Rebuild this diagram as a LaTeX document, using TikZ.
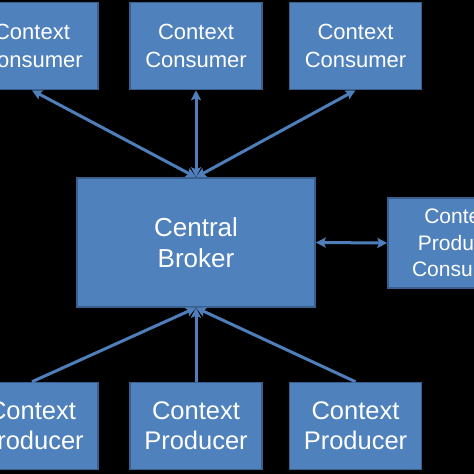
\documentclass[tikz,border=0pt]{standalone}
\usepackage{fontspec}
\setmainfont{Liberation Sans}
\usetikzlibrary{arrows.meta}

\definecolor{boxblue}{HTML}{4F81BD}
\definecolor{boxedge}{HTML}{3A5F8E}
\definecolor{linkblue}{HTML}{4F7FBA}

\begin{document}
\begin{tikzpicture}[x=1pt, y=-1pt,
    box/.style = {draw=boxedge, line width=1.5pt, fill=boxblue, text=white,
                  minimum width=132pt, minimum height=87pt, align=center,
                  font=\fontsize{22}{28.5}\selectfont, inner sep=0pt},
    link/.style = {draw=linkblue, line width=3pt, arrows={-Stealth[length=10pt, width=10pt, inset=2pt]}},
    both/.style = {link, arrows={Stealth[length=10pt, width=10pt, inset=2pt]-Stealth[length=10pt, width=10pt, inset=2pt]}}]
                \fill[black] (0,0) rectangle (474,474);
                \useasboundingbox (0,0) rectangle (474,474);
                \clip (0,0) rectangle (474,474);
                \node[box, minimum width=238pt, minimum height=129pt,
                      font=\fontsize{26}{31}\selectfont] (broker) at (196,242.5) {Central\\Broker};
                \node[box] (cons1) at (32,46) {Context\\Consumer};
                \node[box] (cons2) at (196,46) {Context\\Consumer};
                \node[box] (cons3) at (355.5,46) {Context\\Consumer};
                \node[box, font=\fontsize{25.5}{30}\selectfont] (prod1) at (32,426) {Context\\Producer};
                \node[box, font=\fontsize{25.5}{30}\selectfont] (prod2) at (196,426) {Context\\Producer};
                \node[box, font=\fontsize{25.5}{30}\selectfont] (prod3) at (355.5,426) {Context\\Producer};
                \node[box, minimum width=145pt, minimum height=90pt,
                      font=\fontsize{21}{26.5}\selectfont] (both) at (460.5,243) {Context\\Producer\\Consumer};
                \draw[both] (broker.north) -- (cons1.south);
                \draw[both] (broker.north) -- (cons2.south);
                \draw[both] (broker.north) -- (cons3.south);
                \draw[link] (prod1.north) -- (broker.south);
                \draw[link] (prod2.north) -- (broker.south);
                \draw[link] (prod3.north) -- (broker.south);
                \draw[both] (broker.east) -- (both.west);
            \end{tikzpicture}
\end{document}
